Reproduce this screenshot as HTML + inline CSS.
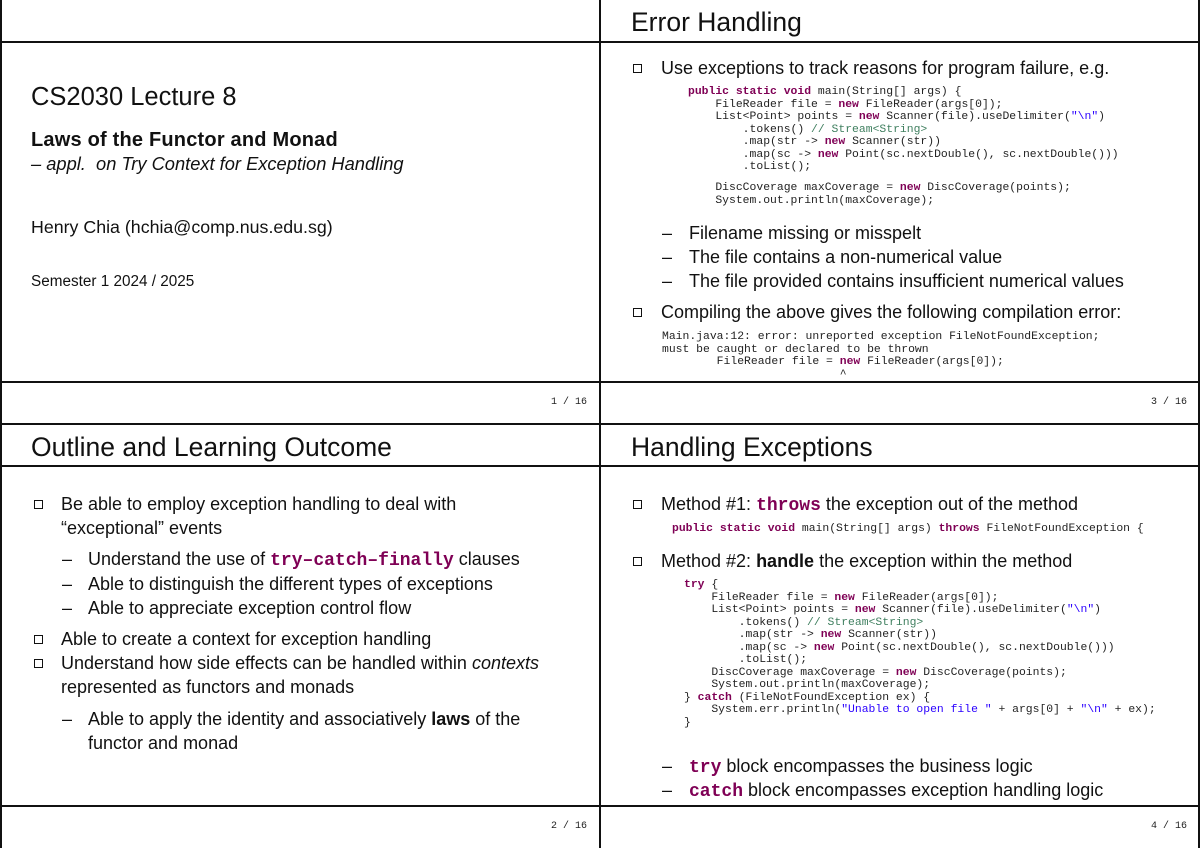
<!DOCTYPE html>
<html><head><meta charset="utf-8"><style>
*{margin:0;padding:0;box-sizing:border-box}
body{width:1200px;height:848px;background:#fff;position:relative;overflow:hidden;font-family:"Liberation Sans",sans-serif;color:#111}
.h{position:absolute;height:2px;background:#111}
.v{position:absolute;width:2px;background:#111}
.t{position:absolute;white-space:pre;line-height:1}
.title{font-size:26.5px}
.b{font-size:18px}
.sq{position:absolute;width:9px;height:9px;border:1.3px solid #111}
.c{position:absolute;white-space:pre;font-family:"Liberation Mono",monospace;font-size:11.4px;line-height:12.5px;color:#222}
.k{color:#7f0055;font-weight:bold}
.s{color:#2a00ff}
.g{color:#3f7f5f}
.kb{font-family:"Liberation Mono",monospace;font-weight:bold;color:#7f0055}
.f{font-family:"Liberation Mono",monospace;font-size:10px;color:#222}
</style></head><body>
<div class="v" style="left:0;top:0;height:848px"></div>
<div class="v" style="left:599px;top:0;height:848px"></div>
<div class="v" style="left:1198px;top:0;height:848px"></div>
<div class="h" style="left:0;top:41px;width:1200px"></div>
<div class="h" style="left:0;top:381px;width:1200px"></div>
<div class="h" style="left:0;top:423px;width:1200px"></div>
<div class="h" style="left:0;top:465px;width:1200px"></div>
<div class="h" style="left:0;top:805px;width:1200px"></div>

<!-- Slide 1 -->
<div class="t" style="left:31px;top:85px;font-size:25.5px">CS2030 Lecture 8</div>
<div class="t" style="left:31px;top:130px;font-size:20px;font-weight:bold;letter-spacing:0.2px">Laws of the Functor and Monad</div>
<div class="t" style="left:31px;top:155px;font-size:18.3px;font-style:italic">– appl.  on Try Context for Exception Handling</div>
<div class="t" style="left:31px;top:219px;font-size:17.8px">Henry Chia (hchia@comp.nus.edu.sg)</div>
<div class="t" style="left:31px;top:274px;font-size:15.3px">Semester 1 2024 / 2025</div>
<div class="t f" style="left:551px;top:398px">1 / 16</div>

<!-- Slide 2 -->
<div class="t title" style="left:31px;top:434px">Outline and Learning Outcome</div>
<div class="sq" style="left:34px;top:500px"></div>
<div class="t b" style="left:61px;top:495px">Be able to employ exception handling to deal with</div>
<div class="t b" style="left:61px;top:519px">“exceptional” events</div>
<div class="t b" style="left:62px;top:550px">–</div>
<div class="t b" style="left:88px;top:550px">Understand the use of <span class="kb">try–catch–finally</span> clauses</div>
<div class="t b" style="left:62px;top:575px">–</div>
<div class="t b" style="left:88px;top:575px">Able to distinguish the different types of exceptions</div>
<div class="t b" style="left:62px;top:599px">–</div>
<div class="t b" style="left:88px;top:599px">Able to appreciate exception control flow</div>
<div class="sq" style="left:34px;top:635px"></div>
<div class="t b" style="left:61px;top:630px">Able to create a context for exception handling</div>
<div class="sq" style="left:34px;top:659px"></div>
<div class="t b" style="left:61px;top:654px">Understand how side effects can be handled within <i>contexts</i></div>
<div class="t b" style="left:61px;top:678px">represented as functors and monads</div>
<div class="t b" style="left:62px;top:710px">–</div>
<div class="t b" style="left:88px;top:710px">Able to apply the identity and associatively <b>laws</b> of the</div>
<div class="t b" style="left:88px;top:734px">functor and monad</div>
<div class="t f" style="left:551px;top:822px">2 / 16</div>

<!-- Slide 3 -->
<div class="t title" style="left:631px;top:9px">Error Handling</div>
<div class="sq" style="left:633px;top:64px"></div>
<div class="t b" style="left:661px;top:59px">Use exceptions to track reasons for program failure, e.g.</div>
<div class="c" style="left:688px;top:86px"><span class="k">public static void</span> main(String[] args) {
    FileReader file = <span class="k">new</span> FileReader(args[0]);
    List&lt;Point&gt; points = <span class="k">new</span> Scanner(file).useDelimiter(<span class="s">"\n"</span>)
        .tokens() <span class="g">// Stream&lt;String&gt;</span>
        .map(str -&gt; <span class="k">new</span> Scanner(str))
        .map(sc -&gt; <span class="k">new</span> Point(sc.nextDouble(), sc.nextDouble()))
        .toList();</div>
<div class="c" style="left:688px;top:182px">    DiscCoverage maxCoverage = <span class="k">new</span> DiscCoverage(points);
    System.out.println(maxCoverage);</div>
<div class="t b" style="left:662px;top:224px">–</div>
<div class="t b" style="left:689px;top:224px">Filename missing or misspelt</div>
<div class="t b" style="left:662px;top:248px">–</div>
<div class="t b" style="left:689px;top:248px">The file contains a non-numerical value</div>
<div class="t b" style="left:662px;top:272px">–</div>
<div class="t b" style="left:689px;top:272px">The file provided contains insufficient numerical values</div>
<div class="sq" style="left:633px;top:308px"></div>
<div class="t b" style="left:661px;top:303px">Compiling the above gives the following compilation error:</div>
<div class="c" style="left:662px;top:331px">Main.java:12: error: unreported exception FileNotFoundException;
must be caught or declared to be thrown
        FileReader file = <span class="k">new</span> FileReader(args[0]);
                          ^</div>
<div class="t f" style="left:1151px;top:398px">3 / 16</div>

<!-- Slide 4 -->
<div class="t title" style="left:631px;top:434px">Handling Exceptions</div>
<div class="sq" style="left:633px;top:500px"></div>
<div class="t b" style="left:661px;top:495px">Method #1: <span class="kb">throws</span> the exception out of the method</div>
<div class="c" style="left:672px;top:523px"><span class="k">public static void</span> main(String[] args) <span class="k">throws</span> FileNotFoundException {</div>
<div class="sq" style="left:633px;top:557px"></div>
<div class="t b" style="left:661px;top:552px">Method #2: <b>handle</b> the exception within the method</div>
<div class="c" style="left:684px;top:579px"><span class="k">try</span> {
    FileReader file = <span class="k">new</span> FileReader(args[0]);
    List&lt;Point&gt; points = <span class="k">new</span> Scanner(file).useDelimiter(<span class="s">"\n"</span>)
        .tokens() <span class="g">// Stream&lt;String&gt;</span>
        .map(str -&gt; <span class="k">new</span> Scanner(str))
        .map(sc -&gt; <span class="k">new</span> Point(sc.nextDouble(), sc.nextDouble()))
        .toList();
    DiscCoverage maxCoverage = <span class="k">new</span> DiscCoverage(points);
    System.out.println(maxCoverage);
} <span class="k">catch</span> (FileNotFoundException ex) {
    System.err.println(<span class="s">"Unable to open file "</span> + args[0] + <span class="s">"\n"</span> + ex);
}</div>
<div class="t b" style="left:662px;top:757px">–</div>
<div class="t b" style="left:689px;top:757px"><span class="kb">try</span> block encompasses the business logic</div>
<div class="t b" style="left:662px;top:781px">–</div>
<div class="t b" style="left:689px;top:781px"><span class="kb">catch</span> block encompasses exception handling logic</div>
<div class="t f" style="left:1151px;top:822px">4 / 16</div>
</body></html>
